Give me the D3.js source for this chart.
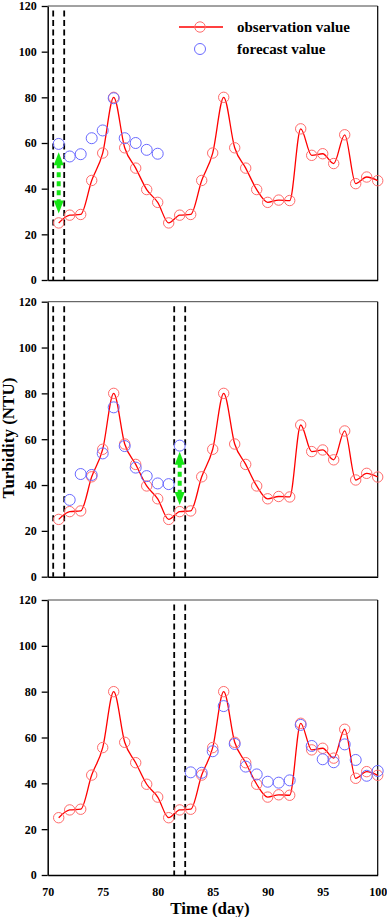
<!DOCTYPE html>
<html>
<head>
<meta charset="utf-8">
<script src="https://cdn.jsdelivr.net/npm/d3@7"></script>
<style>
  body { margin: 0; background: #fff; }
  svg text { font-family: "Liberation Serif", "Times New Roman", serif; font-weight: bold; }
  .axis path, .axis line { stroke: #000; }
</style>
</head>
<body>
<div id="chart"></div>
<script>
// observed turbidity, day 71..100
var days = [71, 72, 73, 74, 75, 76, 77, 78, 79, 80, 81, 82, 83, 84, 85,
        86, 87, 88, 89, 90, 91, 92, 93, 94, 95, 96, 97, 98, 99, 100];
var observed = [25, 28.4, 28.7, 43.6, 55.6, 80, 57.9, 49, 39.6, 34, 25, 28.4, 28.7, 43.6, 55.6,
        80, 57.9, 49, 39.6, 34, 35, 34.8, 66.2, 54.6, 55.3, 51, 63.6, 42.2, 45.1, 43.5];

// forecasts for each panel
var forecastDays1 = [71, 72, 73, 74, 75, 76, 77, 78, 79, 80];
var forecast1 = [59.6, 54.1, 55.1, 62.1, 65.5, 79.6, 62.1, 60, 57, 55.3];
var forecastDays2 = [72, 73, 74, 75, 76, 77, 78, 79, 80, 81, 82];
var forecast2 = [33.5, 44.8, 44.4, 53.8, 73.9, 57, 47.6, 43.9, 40.7, 40.4, 57.2];
var forecastDays3 = [83, 84, 85, 86, 87, 88, 89, 90, 91, 92, 93, 94, 95, 96, 97, 98, 99, 100];
var forecast3 = [44.8, 44.6, 54, 73.7, 57.2, 47.3, 43.9, 40.7, 40.3, 41.3, 65.5, 56.3, 50.5, 49.2, 57, 50.2, 43.3, 45.4];

// window boundaries and error arrows
var windows1 = [70.5, 71.5];
var windows2 = [70.5, 71.5, 81.5, 82.5];
var windows3 = [81.5, 82.5];
var arrow1 = { day: 71, low: 29.1, high: 56 };
var arrow2 = { day: 82, low: 31.3, high: 54.5 };

var yTicks = [0, 20, 40, 60, 80, 100, 120];
var xTicks = [70, 75, 80, 85, 90, 95, 100];

var width = 387, height = 917;
var left = 47.7, right = 377.7;
var serif = "'Liberation Serif', 'Times New Roman', serif";

var svg = d3.select("#chart").append("svg")
        .attr("width", width)
        .attr("height", height);

var x = d3.scaleLinear()
        .domain([70, 100])
        .range([left, right]);

var obsData = days.map(function (d, i) { return { day: d, value: observed[i] }; });

var panels = [
        { top: 6, bottom: 280, fdays: forecastDays1, fvals: forecast1, windows: windows1, arrow: arrow1, legend: true },
        { top: 301.7, bottom: 576.7, fdays: forecastDays2, fvals: forecast2, windows: windows2, arrow: arrow2 },
        { top: 600, bottom: 875, fdays: forecastDays3, fvals: forecast3, windows: windows3, xlabels: true }
];

var green = "#14e614";

panels.forEach(function (p) {
        var y = d3.scaleLinear()
                .domain([0, 120])
                .range([p.bottom, p.top]);

        var g = svg.append("g");

        // frame top and right
        g.append("line")
                .attr("x1", left).attr("x2", right)
                .attr("y1", p.top).attr("y2", p.top)
                .attr("stroke", "#444").attr("stroke-width", 1);
        g.append("line")
                .attr("x1", right).attr("x2", right)
                .attr("y1", p.top).attr("y2", p.bottom)
                .attr("stroke", "#000").attr("stroke-width", 1.2);

        g.append("g")
                .attr("class", "axis")
                .attr("transform", "translate(" + left + ",0)")
                .call(d3.axisLeft(y).tickValues(yTicks).tickSize(6).tickPadding(5).tickSizeOuter(0))
                .attr("font-family", serif)
                .attr("font-size", 12)
                .attr("font-weight", "bold")
                .call(function (a) { a.select(".domain").attr("stroke-width", 1.5); })
                .call(function (a) { a.selectAll(".tick line").attr("stroke-width", 1.3); });

        var xAxis = d3.axisBottom(x).tickValues(xTicks).tickSizeOuter(0);
        if (p.xlabels) {
                xAxis.tickSize(0).tickPadding(12);
        } else {
                xAxis.tickSize(0).tickFormat("");
        }
        g.append("g")
                .attr("class", "axis")
                .attr("transform", "translate(0," + p.bottom + ")")
                .call(xAxis)
                .attr("font-family", serif)
                .attr("font-size", 12)
                .attr("font-weight", "bold")
                .call(function (a) { a.select(".domain").attr("stroke-width", 1.5); });

        // dashed window lines
        g.selectAll(".window")
                .data(p.windows)
                .enter().append("line")
                .attr("class", "window")
                .attr("x1", function (d) { return x(d); })
                .attr("x2", function (d) { return x(d); })
                .attr("y1", y(118))
                .attr("y2", y(0))
                .attr("stroke", "#000")
                .attr("stroke-width", 1.8)
                .attr("stroke-dasharray", "6,3.5");

        // observation curve
        var line = d3.line()
                .curve(d3.curveMonotoneX)
                .x(function (d) { return x(d.day); })
                .y(function (d) { return y(d.value); });

        g.append("path")
                .datum(obsData)
                .attr("d", line)
                .attr("fill", "none")
                .attr("stroke", "#ff0000")
                .attr("stroke-width", 1.3);

        g.selectAll(".obs")
                .data(obsData)
                .enter().append("circle")
                .attr("class", "obs")
                .attr("cx", function (d) { return x(d.day); })
                .attr("cy", function (d) { return y(d.value); })
                .attr("r", 5.2)
                .attr("fill", "none")
                .attr("stroke", "#ff6b6b")
                .attr("stroke-width", 1);

        var fData = p.fdays.map(function (d, i) { return { day: d, value: p.fvals[i] }; });
        g.selectAll(".fc")
                .data(fData)
                .enter().append("circle")
                .attr("class", "fc")
                .attr("cx", function (d) { return x(d.day); })
                .attr("cy", function (d) { return y(d.value); })
                .attr("r", 5.5)
                .attr("fill", "none")
                .attr("stroke", "#6a6aff")
                .attr("stroke-width", 1);

        // green double arrow
        if (p.arrow) {
                var ax = x(p.arrow.day), yt = y(p.arrow.high), yb = y(p.arrow.low);
                var head = 11, hw = 5;
                g.append("line")
                        .attr("x1", ax).attr("x2", ax)
                        .attr("y1", yt + head).attr("y2", yb - head)
                        .attr("stroke", green)
                        .attr("stroke-width", 4)
                        .attr("stroke-dasharray", "5,4");
                g.append("path")
                        .attr("d", "M" + ax + "," + yt + "L" + (ax - hw) + "," + (yt + head + 2) + "L" + (ax + hw) + "," + (yt + head + 2) + "Z")
                        .attr("fill", green);
                g.append("path")
                        .attr("d", "M" + ax + "," + yb + "L" + (ax - hw) + "," + (yb - head - 2) + "L" + (ax + hw) + "," + (yb - head - 2) + "Z")
                        .attr("fill", green);
        }

        if (p.legend) {
                var lg = g.append("g");
                lg.append("line")
                        .attr("x1", 179).attr("x2", 223)
                        .attr("y1", 27).attr("y2", 27)
                        .attr("stroke", "#ff0000").attr("stroke-width", 1.3);
                lg.append("circle")
                        .attr("cx", 200).attr("cy", 27).attr("r", 5.2)
                        .attr("fill", "none").attr("stroke", "#ff6b6b");
                lg.append("circle")
                        .attr("cx", 200).attr("cy", 49).attr("r", 5.5)
                        .attr("fill", "none").attr("stroke", "#6a6aff");
                lg.append("text")
                        .attr("x", 237).attr("y", 32)
                        .style("font-size", "15px")
                        .text("observation value");
                lg.append("text")
                        .attr("x", 237).attr("y", 54)
                        .style("font-size", "15px")
                        .text("forecast value");
        }
});

svg.append("text")
        .attr("transform", "translate(14,438) rotate(-90)")
        .attr("text-anchor", "middle")
        .style("font-size", "17px")
        .text("Turbidity (NTU)");

svg.append("text")
        .attr("x", 210)
        .attr("y", 914)
        .attr("text-anchor", "middle")
        .style("font-size", "17px")
        .text("Time (day)");
</script>
</body>
</html>
